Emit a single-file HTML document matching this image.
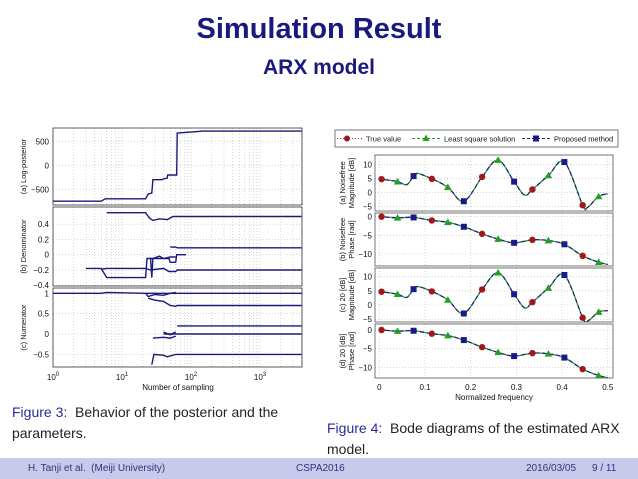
<!DOCTYPE html>
<html><head><meta charset="utf-8"><style>
body{margin:0;width:638px;height:479px;overflow:hidden;background:#fff;font-family:"Liberation Sans",sans-serif;position:relative}
.t{position:absolute;white-space:nowrap}
</style></head><body>
<div class="t" style="left:0;width:638px;text-align:center;top:13px;font-size:29px;font-weight:bold;color:#1a1a7e">Simulation Result</div>
<div class="t" style="left:0;width:638px;text-align:center;top:56px;font-size:21px;font-weight:bold;color:#1a1a7e">ARX model</div>
<svg id="chart" width="638" height="479" style="position:absolute;left:0;top:0" font-family="Liberation Sans, sans-serif"></svg>
<div class="t" style="left:12px;top:402px;font-size:14px;line-height:21px;color:#222"><span style="color:#2a2a9a">Figure 3:</span>&nbsp; Behavior of the posterior and the<br>parameters.</div>
<div class="t" style="left:327px;top:418px;font-size:14px;line-height:21px;color:#222"><span style="color:#2a2a9a">Figure 4:</span>&nbsp; Bode diagrams of the estimated ARX<br>model.</div>
<div style="position:absolute;left:0;top:458px;width:638px;height:21px;background:#c9c9ec;font-size:10px;color:#33337a">
<span class="t" style="left:28px;top:5px">H. Tanji et al. &nbsp;(Meiji University)</span>
<span class="t" style="left:296px;top:5px">CSPA2016</span>
<span class="t" style="left:526px;top:5px">2016/03/05</span>
<span class="t" style="left:592px;top:5px">9 / 11</span>
</div>
<script>
// ---- Left chart data: [n, value] step series ----
const postLine=[[1,-750],[5,-750],[5.7,-700],[22,-700],[24,-600],[27,-580],[28,-300],[38,-300],[40,-280],[45,-270],[46,-200],[62,-200],[63,680],[100,700],[150,720],[4000,720]];
const denLines=[
 [[6,0.55],[22,0.55],[25,0.48],[28,0.45],[35,0.47],[45,0.46],[55,0.5],[4000,0.5]],
 [[50,0.1],[60,0.1],[63,0.09],[4000,0.09]],
 [[3,-0.18],[5,-0.18],[6,-0.3],[22,-0.3],[23,-0.05],[26,-0.05],[27,-0.3],[28,-0.05],[35,-0.02],[40,-0.05],[48,-0.05],[50,-0.1],[60,-0.1],[62,0],[85,0]],
 [[5,-0.19],[6,-0.18],[22,-0.18],[26,-0.2],[40,-0.18],[48,-0.22],[60,-0.22],[63,-0.2],[4000,-0.2]],
 [[25,-0.05],[40,-0.05],[50,-0.03],[60,-0.03]]
];
const numLines=[
 [[1,1.0],[5,1.0],[6,1.02],[22,1.0],[60,1.0],[4000,1.0]],
 [[22,1.0],[24,0.92],[30,0.97],[40,0.95],[50,1.0],[60,1.02]],
 [[24,0.88],[30,0.83],[40,0.8],[50,0.7],[60,0.68],[63,0.7],[4000,0.7]],
 [[63,0.2],[4000,0.2]],
 [[40,0.0],[4000,0.0]],
 [[40,0.05],[50,-0.02],[60,0.05]],
 [[28,-0.1],[40,-0.08],[50,-0.1],[60,-0.05]],
 [[27,-0.75],[29,-0.5],[40,-0.52],[45,-0.56],[60,-0.5],[4000,-0.5]]
];
// ---- Right chart data ----
const mFreq=[0.005,0.04,0.075,0.115,0.15,0.185,0.225,0.26,0.295,0.335,0.37,0.405,0.445,0.48];
const magA=[4.7,3.8,5.8,4.8,1.8,-3.2,5.5,11.5,3.8,1,6,10.8,-4.6,-1.5];
const phaseB=[0,-0.3,-0.2,-1,-1.5,-2.7,-4.6,-6,-7,-6.2,-6.4,-7.4,-10.5,-12.2];
const magC=[4.7,3.8,5.6,4.8,1.8,-3,5.5,11.4,3.8,1,6,10.6,-4.5,-2.5];
const phaseD=[0,-0.3,-0.2,-1,-1.5,-2.7,-4.6,-6,-7,-6.2,-6.4,-7.4,-10.5,-12.2];
const curveA=[[0.005,4.7],[0.04,3.8],[0.06,2.7],[0.075,5.8],[0.085,6.7],[0.115,4.8],[0.15,1.8],[0.185,-3.2],[0.225,5.5],[0.26,11.5],[0.295,3.8],[0.318,-1],[0.335,1],[0.37,6],[0.405,10.8],[0.445,-4.6],[0.455,-5.5],[0.48,-1.5],[0.5,-0.5]];
const curveB=[[0.005,0],[0.04,-0.3],[0.075,-0.2],[0.115,-1],[0.15,-1.5],[0.185,-2.7],[0.225,-4.6],[0.26,-6],[0.295,-7],[0.335,-6.2],[0.37,-6.4],[0.405,-7.4],[0.445,-10.5],[0.48,-12.2],[0.5,-12.8]];
const curveC=[[0.005,4.7],[0.04,3.8],[0.06,2.7],[0.075,5.6],[0.085,6.5],[0.115,4.8],[0.15,1.8],[0.185,-3],[0.225,5.5],[0.26,11.4],[0.295,3.8],[0.318,-1],[0.335,1],[0.37,6],[0.405,10.6],[0.445,-4.5],[0.455,-5.8],[0.48,-2.5],[0.5,-2]];
const curveD=curveB;

const svg=document.getElementById('chart');const NS='http://www.w3.org/2000/svg';
function E(tag,at,parent){const e=document.createElementNS(NS,tag);for(const k in at)e.setAttribute(k,at[k]);(parent||svg).appendChild(e);return e;}
function T(x,y,s,size,anchor,rot){const e=E('text',{x:x,y:y,'font-size':size||9,'text-anchor':anchor||'middle',fill:'#111'});if(rot)e.setAttribute('transform','rotate(-90 '+x+' '+y+')');e.textContent=s;return e;}

// Left chart
const LX0=53,LX1=302;
const lx=n=>LX0+Math.log10(n)*69;
const panelsL=[
 {y0:128,y1:205,lo:-830,hi:785,ticks:[500,0,-500],lab:['500','0','−500'],name:'(a) Log-posterior',lines:[postLine],nm:'posterior'},
 {y0:207,y1:286,lo:-0.41,hi:0.625,ticks:[0.4,0.2,0,-0.2,-0.4],lab:['0.4','0.2','0','−0.2','−0.4'],name:'(b) Denominator',lines:denLines,nm:'denominator'},
 {y0:288,y1:367,lo:-0.81,hi:1.13,ticks:[1,0.5,0,-0.5],lab:['1','0.5','0','−0.5'],name:'(c) Numerator',lines:numLines,nm:'numerator'}
];
panelsL.forEach(p=>{
 const ly=v=>p.y1-(v-p.lo)/(p.hi-p.lo)*(p.y1-p.y0);
 const g=E('g',{});
 for(let d=0;d<4;d++)for(let k=1;k<10;k++){const n=k*Math.pow(10,d);if(n>4000)continue;const x=lx(n);E('line',{x1:x,x2:x,y1:p.y0,y2:p.y1,stroke:'#bbb','stroke-width':0.6,'stroke-dasharray':'1,2'},g);}
 p.ticks.forEach((t,i)=>{const y=ly(t);E('line',{x1:LX0,x2:LX1,y1:y,y2:y,stroke:'#bbb','stroke-width':0.6,'stroke-dasharray':'1,2'},g);T(LX0-4,y+3,p.lab[i],8,'end');});
 E('rect',{x:LX0,y:p.y0,width:LX1-LX0,height:p.y1-p.y0,fill:'none',stroke:'#333','stroke-width':0.8},g);
 p.lines.forEach(L=>{let d='';L.forEach((pt,i)=>{const x=lx(pt[0]),y=ly(pt[1]);d+=(i?'L':'M')+x.toFixed(1)+' '+y.toFixed(1);});const pl=E('path',{d:d,fill:'none',stroke:'#1a1a7a','stroke-width':1.4},g);});
 const yl=T(26,(p.y0+p.y1)/2,p.name,7.5,'middle',true);
});
[0,1,2,3].forEach(d=>{const x=lx(Math.pow(10,d));const t=E('text',{x:x,y:380,'font-size':8,'text-anchor':'middle',fill:'#111'});t.innerHTML='10<tspan dy="-4" font-size="6">'+d+'</tspan>';});
T(178,390,'Number of sampling',8);

// Right chart
const RX0=375,RX1=613;const rx=f=>379.3+f*457;
const panelsR=[
 {y0:155,y1:211,a:10,ya:164.3,b:0,yb:192.3,ticks:[10,5,0,-5],lab:['10','5','0','−5'],m:magA,c:curveA,n1:'(a) Noisefree',n2:'Magnitude [dB]',nm:'noisefree-magnitude'},
 {y0:213,y1:266,a:0,ya:216.7,b:-10,yb:254,ticks:[0,-5,-10],lab:['0','−5','−10'],m:phaseB,c:curveB,n1:'(b) Noisefree',n2:'Phase [rad]',nm:'noisefree-phase'},
 {y0:268,y1:322,a:10,ya:276.7,b:0,yb:305,ticks:[10,5,0,-5],lab:['10','5','0','−5'],m:magC,c:curveC,n1:'(c) 20 [dB]',n2:'Magnitude [dB]',nm:'20db-magnitude'},
 {y0:324,y1:378,a:0,ya:330,b:-10,yb:367.3,ticks:[0,-5,-10],lab:['0','−5','−10'],m:phaseD,c:curveD,n1:'(d) 20 [dB]',n2:'Phase [rad]',nm:'20db-phase'}
];
function smooth(pts){let d='M'+pts[0][0]+' '+pts[0][1];for(let i=0;i<pts.length-1;i++){const p0=pts[i-1]||pts[i],p1=pts[i],p2=pts[i+1],p3=pts[i+2]||p2;d+='C'+(p1[0]+(p2[0]-p0[0])/6).toFixed(1)+' '+(p1[1]+(p2[1]-p0[1])/6).toFixed(1)+' '+(p2[0]-(p3[0]-p1[0])/6).toFixed(1)+' '+(p2[1]-(p3[1]-p1[1])/6).toFixed(1)+' '+p2[0].toFixed(1)+' '+p2[1].toFixed(1);}return d;}
panelsR.forEach(p=>{
 const ry=v=>p.ya+(v-p.a)*(p.yb-p.ya)/(p.b-p.a);
 const g=E('g',{});
 for(let f=0;f<=0.5001;f+=0.1){const x=rx(f);E('line',{x1:x,x2:x,y1:p.y0,y2:p.y1,stroke:'#bbb','stroke-width':0.6,'stroke-dasharray':'1,2'},g);}
 p.ticks.forEach((t,i)=>{const y=ry(t);E('line',{x1:RX0,x2:RX1,y1:y,y2:y,stroke:'#bbb','stroke-width':0.6,'stroke-dasharray':'1,2'},g);T(RX0-3,y+3,p.lab[i],8,'end');});
 E('rect',{x:RX0,y:p.y0,width:RX1-RX0,height:p.y1-p.y0,fill:'none',stroke:'#555','stroke-width':0.8},g);
 const cp=p.c.map(q=>[rx(q[0]),ry(q[1])]);const d=smooth(cp);
 const cl=E('clipPath',{id:'cl'+p.nm},g);E('rect',{x:RX0,y:p.y0,width:RX1-RX0,height:p.y1-p.y0},cl);
 const l1=E('path',{d:d,fill:'none',stroke:'#2a9a2a','stroke-width':1.3,'stroke-dasharray':'4,3','clip-path':'url(#cl'+p.nm+')'},g);
 
 const l2=E('path',{d:d,fill:'none',stroke:'#1a1a7a','stroke-width':1.3,'stroke-dasharray':'4,3','stroke-dashoffset':3.5,'clip-path':'url(#cl'+p.nm+')'},g);
 
 p.m.forEach((v,i)=>{const x=rx(mFreq[i]),y=ry(v);let mk;
  if(i%3==0)mk=E('circle',{cx:x,cy:y,r:3.2,fill:'#a01818'},g);
  else if(i%3==1)mk=E('polygon',{points:(x)+','+(y-3.8)+' '+(x-3.8)+','+(y+2.8)+' '+(x+3.8)+','+(y+2.8),fill:'#22a022'},g);
  else mk=E('rect',{x:x-3,y:y-3,width:6,height:6,fill:'#1a1a8a'},g);
  });
 T(345,(p.y0+p.y1)/2,p.n1,7.5,'middle',true);T(354,(p.y0+p.y1)/2,p.n2,7.5,'middle',true);
});
['0','0.1','0.2','0.3','0.4','0.5'].forEach((s,i)=>T(rx(i*0.1),390,s,8));
T(494,400,'Normalized frequency',8);
// legend
const lg=E('g',{});
E('rect',{x:335,y:130,width:283,height:17,fill:'#fff',stroke:'#555','stroke-width':0.8},lg);
E('line',{x1:337,x2:362,y1:138.5,y2:138.5,stroke:'#a01818','stroke-dasharray':'1,2'},lg);E('circle',{cx:347,cy:138.5,r:3,fill:'#a01818'},lg);
T(366,141.5,'True value',7.5,'start').setAttribute('fill','#222');
E('line',{x1:412,x2:440,y1:138.5,y2:138.5,stroke:'#2a9a2a','stroke-dasharray':'3,2'},lg);E('polygon',{points:'426,134.5 422.5,141 429.5,141',fill:'#22a022'},lg);
T(444,141.5,'Least square solution',7.5,'start');
E('line',{x1:522,x2:550,y1:138.5,y2:138.5,stroke:'#1a1a7a','stroke-dasharray':'3,2'},lg);E('rect',{x:533,y:135.5,width:6,height:6,fill:'#1a1a8a'},lg);
T(554,141.5,'Proposed method',7.5,'start');
</script>
</body></html>
